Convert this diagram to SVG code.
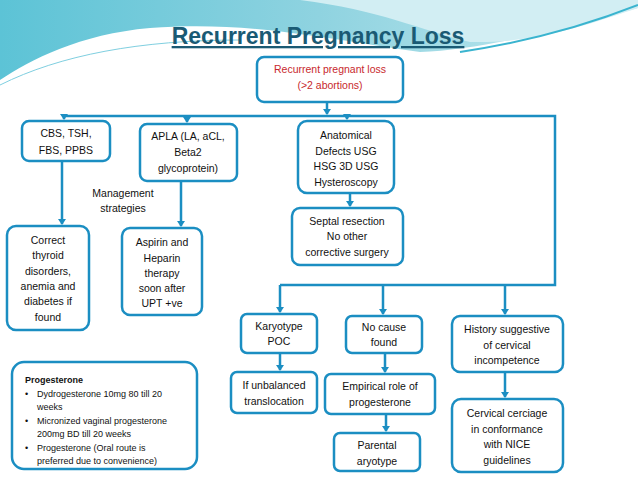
<svg xmlns="http://www.w3.org/2000/svg" width="638" height="479" viewBox="0 0 638 479">
<defs>
<linearGradient id="bg" x1="0" y1="0" x2="1" y2="0"><stop offset="0" stop-color="#5cc3d6"/><stop offset="0.5" stop-color="#8fd3e0"/><stop offset="1" stop-color="#c4e9ef"/></linearGradient>
<marker id="ah" markerWidth="8" markerHeight="8" refX="5" refY="4" orient="auto" markerUnits="userSpaceOnUse"><path d="M0,0 L6,4 L0,8 Z" fill="#1b8ec2"/></marker>
</defs>
<style>
.b{fill:#fff;stroke:#1b8ec2;stroke-width:2.5}
.c{fill:none;stroke:#1b8ec2;stroke-width:2.5}
.a{marker-end:url(#ah)}
text{font-family:"Liberation Sans",Arial,sans-serif;font-size:10.5px;fill:#111;text-anchor:middle}
.s{font-size:9px;text-anchor:start}
</style>
<rect width="638" height="479" fill="#fff"/>
<path d="M0,0 H638 V8 C560,30 480,50 420,52 C330,40 250,20 150,28 C80,34 30,60 0,80 Z" fill="url(#bg)"/>
<path d="M300,0 C380,10 420,30 470,42 C540,44 600,20 638,8 V0 Z" fill="#d2eef3"/>
<path d="M0,85 C60,55 140,40 240,40" fill="none" stroke="#7fcfe0" stroke-width="1"/>
<path d="M460,52 C540,40 600,20 638,5" fill="none" stroke="#3ab4cf" stroke-width="2"/>
<text x="318" y="44" style="font-size:23px;font-weight:bold;fill:#1a5a74;text-decoration:underline">Recurrent Pregnancy Loss</text>
<g id="connectors">
<path class="c a" d="M327,102 V114"/>
<path class="c" d="M64,116 H555 V285 H280"/>
<path class="c a" d="M64,116 V119"/>
<path class="c a" d="M187,116 V122"/>
<path class="c a" d="M347,116 V119"/>
<path class="c a" d="M62,161 V224"/>
<path class="c a" d="M181,181 V226"/>
<path class="c a" d="M350,193 V206"/>
<path class="c a" d="M280,285 V312"/>
<path class="c a" d="M383,285 V314"/>
<path class="c a" d="M505,285 V314"/>
<path class="c a" d="M280,353 V370"/>
<path class="c a" d="M385,353 V372"/>
<path class="c a" d="M505,372 V397"/>
<path class="c a" d="M386,414 V431"/>
</g>
<g id="root"><rect class="b" x="257" y="57" width="146" height="45" rx="7"/><text x="330" y="73" style="fill:#c8282d">Recurrent pregnant loss</text><text x="330" y="89" style="fill:#c8282d">(&gt;2 abortions)</text></g>
<g id="cbs"><rect class="b" x="22" y="121" width="88" height="40" rx="7"/><text x="66" y="137">CBS, TSH,</text><text x="66" y="154">FBS, PPBS</text></g>
<g id="apla"><rect class="b" x="140" y="124" width="97" height="57" rx="7"/><text x="188" y="140">APLA (LA, aCL,</text><text x="188" y="156">Beta2</text><text x="188" y="172">glycoprotein)</text></g>
<g id="anat"><rect class="b" x="298" y="121" width="96" height="72" rx="9"/><text x="346" y="139">Anatomical</text><text x="346" y="155">Defects USG</text><text x="346" y="170">HSG 3D USG</text><text x="346" y="186">Hysteroscopy</text></g>
<text x="123" y="197">Management</text><text x="123" y="212">strategies</text>
<g id="septal"><rect class="b" x="292" y="208" width="111" height="57" rx="8"/><text x="347" y="225">Septal resection</text><text x="347" y="240">No other</text><text x="347" y="256">corrective surgery</text></g>
<g id="thyroid"><rect class="b" x="7" y="226" width="82" height="104" rx="9"/><text x="48" y="244">Correct</text><text x="48" y="259">thyroid</text><text x="48" y="275">disorders,</text><text x="48" y="290">anemia and</text><text x="48" y="305">diabetes if</text><text x="48" y="321">found</text></g>
<g id="aspirin"><rect class="b" x="122" y="228" width="80" height="87" rx="8"/><text x="162" y="246">Aspirin and</text><text x="162" y="262">Heparin</text><text x="162" y="277">therapy</text><text x="162" y="292">soon after</text><text x="162" y="307">UPT +ve</text></g>
<g id="karyo"><rect class="b" x="241" y="314" width="76" height="39" rx="6"/><text x="279" y="330">Karyotype</text><text x="279" y="345">POC</text></g>
<g id="nocause"><rect class="b" x="346" y="316" width="76" height="37" rx="6"/><text x="384" y="331">No cause</text><text x="384" y="346">found</text></g>
<g id="history"><rect class="b" x="452" y="316" width="111" height="56" rx="8"/><text x="507" y="333">History suggestive</text><text x="507" y="349">of cervical</text><text x="507" y="364">incompetence</text></g>
<g id="unbal"><rect class="b" x="231" y="372" width="86" height="41" rx="6"/><text x="274" y="389">If unbalanced</text><text x="274" y="405">translocation</text></g>
<g id="empir"><rect class="b" x="325" y="374" width="110" height="40" rx="6"/><text x="380" y="390">Empirical role of</text><text x="380" y="406">progesterone</text></g>
<g id="parental"><rect class="b" x="334" y="433" width="86" height="38" rx="6"/><text x="377" y="449">Parental</text><text x="377" y="465">aryotype</text></g>
<g id="cerclage"><rect class="b" x="452" y="399" width="111" height="73" rx="9"/><text x="507" y="417">Cervical cerciage</text><text x="507" y="433">in conformance</text><text x="507" y="448">with NICE</text><text x="507" y="464">guidelines</text></g>
<g id="proges"><rect class="b" x="12" y="362" width="185" height="107" rx="12"/>
<text class="s" x="25" y="383" style="font-weight:bold">Progesterone</text>
<text class="s" x="25" y="397">•</text><text class="s" x="37" y="397">Dydrogesterone 10mg 80 till 20</text><text class="s" x="37" y="410">weeks</text>
<text class="s" x="25" y="424">•</text><text class="s" x="37" y="424">Micronized vaginal progesterone</text><text class="s" x="37" y="437">200mg BD till 20 weeks</text>
<text class="s" x="25" y="451">•</text><text class="s" x="37" y="451">Progesterone (Oral route is</text><text class="s" x="37" y="464">preferred due to convenience)</text></g>
</svg>
